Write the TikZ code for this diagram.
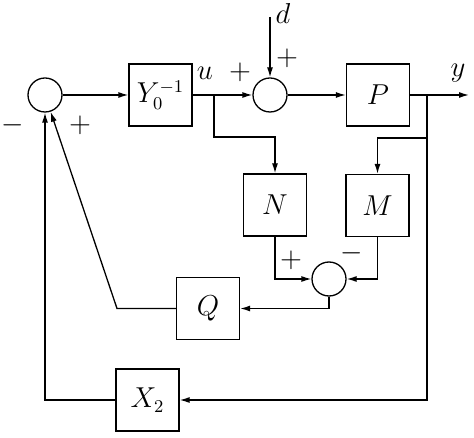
\documentclass[tikz,border=0pt]{standalone}
\usetikzlibrary{arrows.meta}
\begin{document}
\begin{tikzpicture}[x=0.5pt,y=-0.5pt,
  every node/.style={font=\fontsize{13.5}{16}\selectfont},
  blk/.style={draw,line width=0.65pt,minimum width=31.5pt,minimum height=31pt,inner sep=0pt},
  sumc/.style={draw,circle,line width=0.65pt,minimum size=17pt,inner sep=0pt},
  lbl/.style={inner sep=0pt},
  arr/.style={line width=0.65pt,-{Latex[length=5pt,width=3pt]}}]
\useasboundingbox (0,0) rectangle (474,437);
\node[sumc] (s1) at (45,95) {};
\node[blk] (Y) at (160.5,95) {$Y_0^{-1}$};
\node[sumc] (s2) at (270,95) {};
\node[blk] (P) at (378,95) {$P$};
\node[blk] (N) at (275,205) {$N$};
\node[blk] (M) at (377.5,205.5) {$M$};
\node[sumc] (s3) at (329,279) {};
\node[blk] (Q) at (208,308.5) {$Q$};
\node[blk] (X) at (147.5,400) {$X_2$};
\coordinate (dtop) at (270,17);
\coordinate (yout) at (469,95);
\coordinate (bu) at (214,95);
\coordinate (py) at (427,95);
\coordinate (qk) at (117,308.5);
% labels
\node[lbl] (lu) at (205,73) {$u$};
\node[lbl] (lp1) at (240,72) {$+$};
\node[lbl] (ld) at (283,14) {$d$};
\node[lbl] (lp2) at (287,58) {$+$};
\node[lbl] (ly) at (458,73) {$y$};
\node[lbl] (lm1) at (13,125) {$-$};
\node[lbl] (lp3) at (80,125) {$+$};
\node[lbl] (lp4) at (291,260) {$+$};
\node[lbl] (lm2) at (352,253) {$-$};
% connectors
\draw[arr] (s1) -- (Y);
\draw[arr] (Y) -- (s2);
\draw[arr] (dtop) -- (s2);
\draw[arr] (s2) -- (P);
\draw[arr] (P) -- (yout);
\draw[arr] (bu) -- ++(0,42) -| (N.north);
\draw[arr] (py) -- ++(0,43) -| (M.north);
\draw[arr] (py) |- (X.east);
\draw[arr] (N.south) |- (s3.west);
\draw[arr] (M.south) |- (s3.east);
\draw[arr] (s3.south) |- (Q.east);
\draw[arr] (Q.west) -- (qk) -- (s1);
\draw[arr] (X.west) -| (s1.south);
\end{tikzpicture}
\end{document}
